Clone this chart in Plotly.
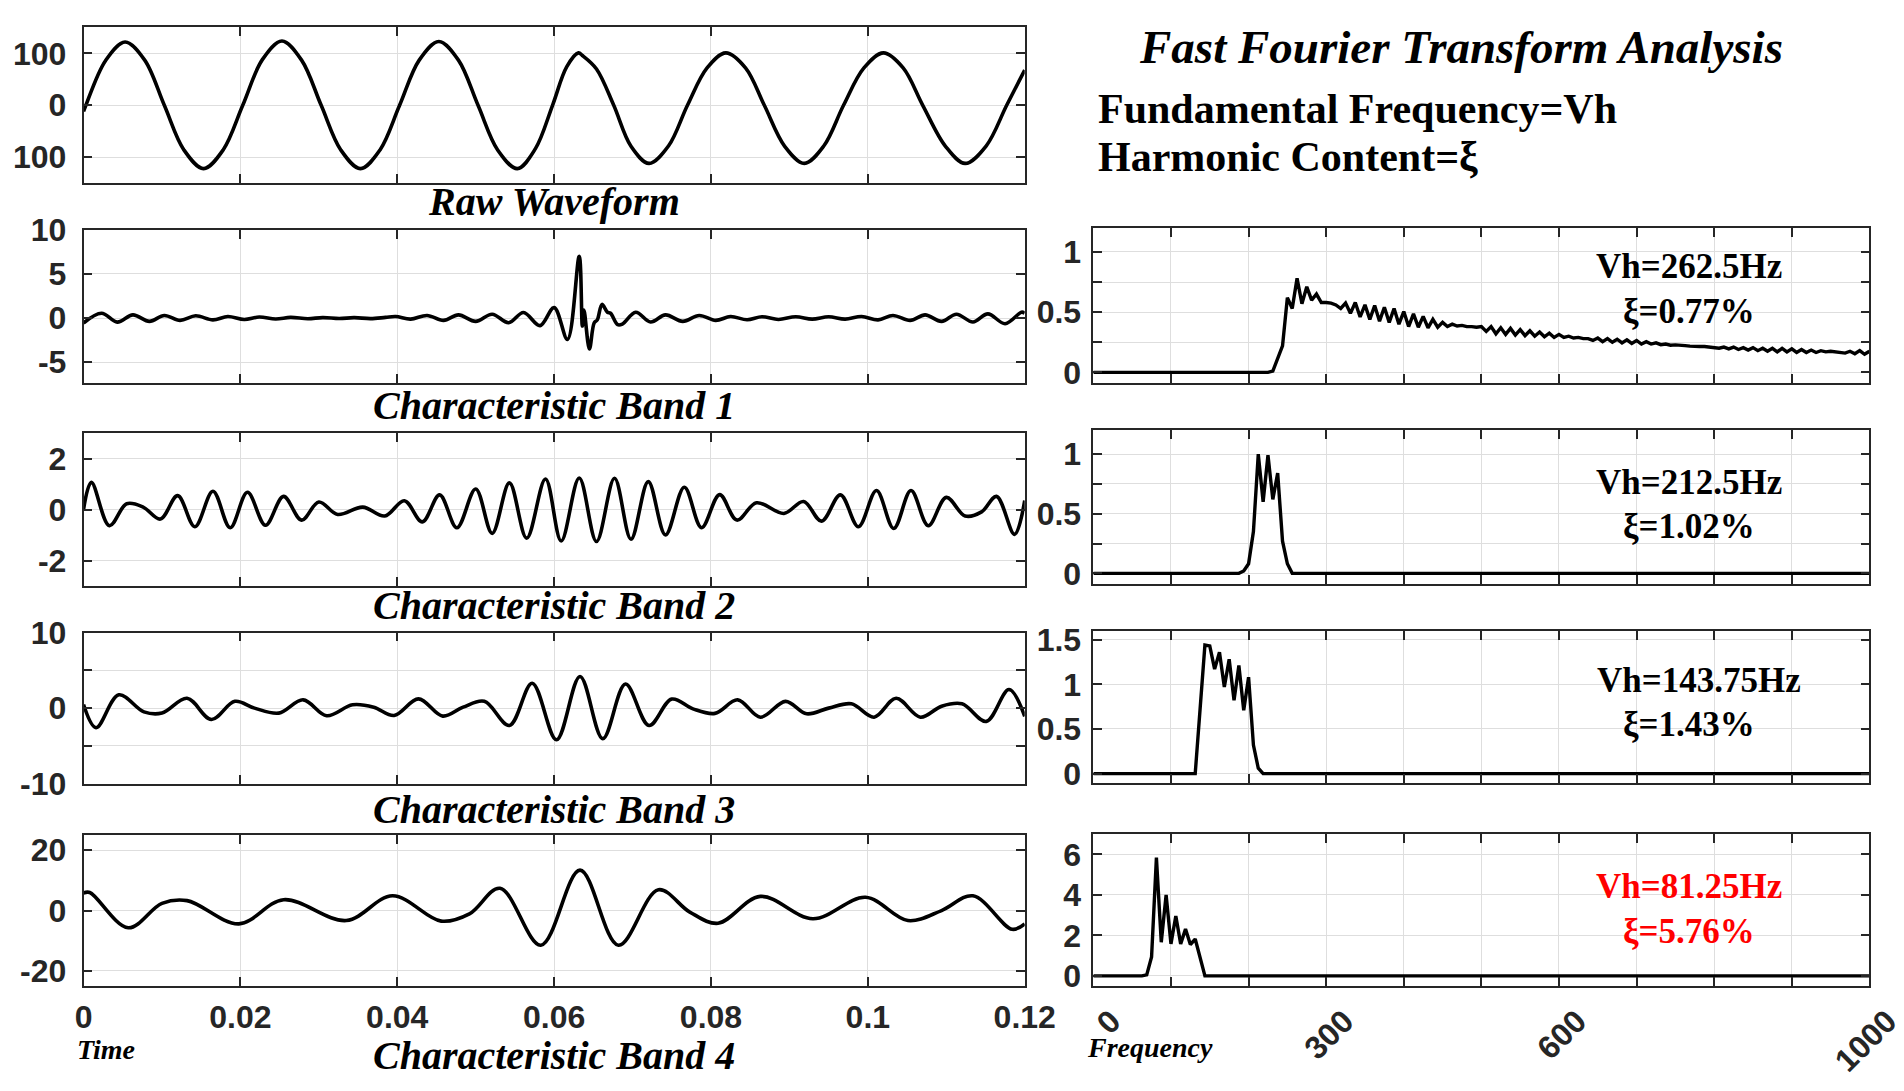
import numpy as np
import plotly.graph_objects as go

# ---------------- time domain (extrema / crossings) ----------------
raw_t = [0, 0.0003, 0.0028, 0.0053, 0.0078, 0.0103, 0.0128, 0.0153, 0.0178, 0.0203,
         0.0228, 0.0253, 0.0278, 0.0303, 0.0328, 0.0353, 0.0378, 0.0403, 0.0428, 0.0453,
         0.0478, 0.0503, 0.0528, 0.0553, 0.0576, 0.0598, 0.0616, 0.0631, 0.0636, 0.0654,
         0.0676, 0.0698, 0.0721, 0.0746, 0.0770, 0.0795, 0.0819, 0.0844, 0.0868, 0.0894,
         0.0919, 0.0944, 0.0969, 0.0995, 0.1020, 0.1045, 0.1070, 0.1099, 0.1124, 0.1151,
         0.1177, 0.12]
raw_v = [-12, 0, 86, 122, 87, 0, -86, -122, -86, 0,
         88, 124, 87, 0, -86, -122, -86, 0, 87, 123,
         87, 0, -86, -122, -84, 0, 74, 101, 96, 70,
         0, -79, -112, -78, 0, 72, 101, 72, 0, -79,
         -112, -78, 0, 72, 101, 72, 0, -79, -112, -78,
         0, 68]

band1_t = [0, 0.0023, 0.0043, 0.0063, 0.0084, 0.0103, 0.0123, 0.0143, 0.0165, 0.0184,
           0.0205, 0.0224, 0.0245, 0.0264, 0.0286, 0.0305, 0.0326, 0.0345, 0.0366, 0.0385,
           0.0398, 0.0417, 0.0438, 0.0459, 0.0478, 0.0500, 0.0521, 0.0542, 0.0561, 0.0582,
           0.0600, 0.0617, 0.0632, 0.0636, 0.0638, 0.0645, 0.0651, 0.0655, 0.0661, 0.0668,
           0.0672, 0.0681, 0.0687, 0.0704, 0.0723, 0.0742, 0.0764, 0.0785, 0.0806, 0.0825,
           0.0846, 0.0865, 0.0886, 0.0908, 0.0929, 0.0950, 0.0971, 0.0992, 0.1013, 0.1032,
           0.1054, 0.1073, 0.1094, 0.1113, 0.1134, 0.1153, 0.1175, 0.1196, 0.12]
band1_v = [-0.55, 0.55, -0.45, 0.37, -0.37, 0.30, -0.26, 0.26, -0.20, 0.18,
           -0.15, 0.12, -0.10, 0.08, -0.07, 0.06, -0.05, 0.05, -0.06, 0.08,
           0.18, -0.11, 0.30, -0.26, 0.37, -0.37, 0.44, -0.52, 0.63, -0.85,
           1.19, -2.41, 7.0, -0.9, 0.9, -3.5, -0.55, -0.2, 1.55, 0.67,
           0.55, -0.74, -0.67, 0.67, -0.44, 0.37, -0.37, 0.30, -0.26, 0.18,
           -0.18, 0.15, -0.15, 0.15, -0.11, 0.15, -0.11, 0.18, -0.20, 0.30,
           -0.26, 0.37, -0.37, 0.44, -0.44, 0.48, -0.63, 0.67, 0.55]

band2_t = [0, 0.0010, 0.0033, 0.0055, 0.0076, 0.0098, 0.0120, 0.0142, 0.0165, 0.0187,
           0.0209, 0.0232, 0.0255, 0.0278, 0.0300, 0.0324, 0.0356, 0.0384, 0.0409, 0.0432,
           0.0454, 0.0476, 0.0500, 0.0521, 0.0543, 0.0565, 0.0589, 0.0609, 0.0632, 0.0654,
           0.0677, 0.0698, 0.0720, 0.0742, 0.0766, 0.0788, 0.0811, 0.0833, 0.0858, 0.0893,
           0.0918, 0.0941, 0.0965, 0.0988, 0.1011, 0.1033, 0.1055, 0.1077, 0.1100, 0.1124,
           0.1145, 0.1164, 0.1187, 0.12]
band2_v = [0, 1.07, -0.63, 0.23, 0.10, -0.37, 0.55, -0.67, 0.72, -0.71,
           0.68, -0.61, 0.52, -0.41, 0.30, -0.19, 0.10, -0.25, 0.35, -0.48,
           0.58, -0.71, 0.81, -0.93, 1.05, -1.12, 1.20, -1.23, 1.24, -1.25,
           1.23, -1.16, 1.10, -0.99, 0.88, -0.71, 0.59, -0.41, 0.27, -0.15,
           0.32, -0.45, 0.58, -0.67, 0.75, -0.74, 0.75, -0.63, 0.48, -0.25,
           -0.09, 0.52, -0.97, 0.36]

band3_t = [0, 0.0016, 0.0045, 0.0077, 0.0100, 0.0132, 0.0163, 0.0193, 0.0218, 0.0249,
           0.0280, 0.0310, 0.0343, 0.0370, 0.0396, 0.0427, 0.0458, 0.0484, 0.0511, 0.0543,
           0.0572, 0.0603, 0.0633, 0.0662, 0.0691, 0.0721, 0.0750, 0.0777, 0.0805, 0.0834,
           0.0863, 0.0895, 0.0922, 0.0950, 0.0979, 0.1008, 0.1036, 0.1067, 0.1094, 0.1120,
           0.1151, 0.1180, 0.12]
band3_v = [0.48, -2.6, 1.76, -0.5, -0.66, 1.3, -1.5, 0.9, 0.0, -0.66,
           1.1, -1.0, 0.44, 0.13, -0.97, 1.23, -1.06, 0.13, 0.9, -2.3,
           3.3, -4.2, 4.2, -4.05, 3.2, -2.3, 1.2, -0.1, -0.7, 1.1,
           -1.2, 0.9, -0.75, 0.0, 0.57, -1.2, 1.3, -1.2, 0.26, 0.57,
           -1.76, 2.47, -1.1]

band4_t = [0, 0.0008, 0.0057, 0.0100, 0.0132, 0.0198, 0.0255, 0.0335, 0.0394, 0.0456,
           0.0492, 0.0531, 0.0583, 0.0633, 0.0682, 0.0733, 0.0773, 0.0809, 0.0863, 0.0930,
           0.0997, 0.1051, 0.1094, 0.1134, 0.1184, 0.12]
band4_v = [5.8, 6.0, -5.7, 2.4, 3.3, -4.4, 3.6, -3.3, 4.9, -3.5,
           -1.1, 7.4, -11.5, 13.4, -11.5, 6.9, -0.5, -4.2, 4.7, -2.7,
           4.4, -3.3, 0.0, 4.9, -6.2, -4.4]

# ---------------- spectra (6.25 Hz bins) ----------------
fft1_f = [0] + list(np.arange(225, 1000.01, 6.25))
fft1_a = [0,
          0.0, 0.01, 0.12, 0.22, 0.62, 0.53, 0.78, 0.57, 0.71, 0.60, 0.65, 0.58, 0.58,
          0.575, 0.56, 0.53, 0.575, 0.49, 0.58, 0.46, 0.56, 0.44, 0.555, 0.425, 0.54, 0.415, 0.53, 0.40, 0.505,
          0.38, 0.485, 0.375, 0.465, 0.37, 0.44, 0.375, 0.415, 0.38, 0.40, 0.385, 0.39, 0.38, 0.38, 0.375, 0.38,
          0.34, 0.38, 0.32, 0.37, 0.315, 0.365, 0.31, 0.355, 0.305, 0.345, 0.30, 0.335, 0.295, 0.325, 0.29, 0.315,
          0.29, 0.30, 0.285, 0.29, 0.28, 0.28, 0.265, 0.285, 0.255, 0.28, 0.25, 0.275, 0.245, 0.27, 0.24, 0.265,
          0.235, 0.255, 0.235, 0.245, 0.23, 0.235, 0.225, 0.228, 0.222, 0.222, 0.218, 0.22, 0.215, 0.215, 0.21, 0.212,
          0.20, 0.21, 0.195, 0.21, 0.19, 0.205, 0.185, 0.205, 0.18, 0.20, 0.175, 0.20, 0.17, 0.20, 0.17, 0.195,
          0.165, 0.19, 0.165, 0.185, 0.165, 0.18, 0.17, 0.175, 0.17, 0.17, 0.16, 0.175, 0.155, 0.18, 0.15, 0.175]

fft2_f = [0, 187.5, 193.75, 200, 206.25, 212.5, 218.75, 225, 231.25, 237.5, 243.75, 250, 256.25, 1000]
fft2_a = [0, 0, 0.02, 0.08, 0.35, 1.0, 0.6, 0.99, 0.62, 0.84, 0.27, 0.08, 0, 0]

fft3_f = [0, 131.25, 137.5, 143.75, 150, 156.25, 162.5, 168.75, 175, 181.25, 187.5,
          193.75, 200, 206.25, 212.5, 218.75, 1000]
fft3_a = [0, 0, 0.72, 1.44, 1.43, 1.17, 1.36, 0.97, 1.28, 0.82, 1.21,
          0.71, 1.08, 0.32, 0.06, 0, 0]

fft4_f = [0, 62.5, 68.75, 75, 81.25, 87.5, 93.75, 100, 106.25, 112.5, 118.75, 125, 131.25, 137.5, 143.75, 1000]
fft4_a = [0, 0, 0.05, 0.93, 5.84, 1.66, 4.0, 1.58, 2.96, 1.58, 2.31, 1.55, 1.82, 0.85, 0, 0]

titles = ['Raw Waveform', 'Characteristic Band 1', 'Characteristic Band 2',
          'Characteristic Band 3', 'Characteristic Band 4']
vh_text = ['Vh=262.5Hz', 'Vh=212.5Hz', 'Vh=143.75Hz', 'Vh=81.25Hz']
xi_text = ['ξ=0.77%', 'ξ=1.02%', 'ξ=1.43%', 'ξ=5.76%']

time_ticks = [0, 0.02, 0.04, 0.06, 0.08, 0.1, 0.12]
time_labels = ['0', '0.02', '0.04', '0.06', '0.08', '0.1', '0.12']
freq_ticks = list(range(0, 1001, 100))
freq_labels = ['0', '', '', '300', '', '', '600', '', '', '', '1000']

left_yticks = [[-100, 0, 100], [-5, 0, 5, 10], [-2, 0, 2], [-10, -5, 0, 5, 10], [-20, 0, 20]]
left_ylabels = [['100', '0', '100'], ['-5', '0', '5', '10'], ['-2', '0', '2'],
                ['-10', '', '0', '', '10'], ['-20', '0', '20']]
right_yticks = [[0, 0.25, 0.5, 0.75, 1], [0, 0.25, 0.5, 0.75, 1], [0, 0.5, 1, 1.5], [0, 2, 4, 6]]
right_ylabels = [['0', '', '0.5', '', '1'], ['0', '', '0.5', '', '1'],
                 ['0', '0.5', '1', '1.5'], ['0', '2', '4', '6']]

# ---------------- layout geometry (positions measured on the reference, in px) ----------------
W, H = 1904, 1091
left_x = (82, 1028)
right_x = (1097, 1877)
left_rows = [(25, 182), (229, 383), (434, 588), (635, 787), (839, 991)]
right_rows = [(227, 383), (431, 586), (633, 786), (838, 991)]
left_ranges = [[-150, 150], [-7.3, 10], [-3, 3], [-10, 10], [-25, 25]]
right_ranges = [[-0.085, 1.2], [-0.09, 1.2], [-0.1, 1.6], [-0.5, 7]]

# the captured page comes out slightly shrunk and shifted; compensate
SX, OX = 1.0179, -15.4
SY, OY = 1.0263, -24.3

SERIF = 'Liberation Serif, Times New Roman, serif'
SANS = 'Liberation Sans Narrow, Arial Narrow, Liberation Sans, Arial'
INK = '#262626'
tick_font = dict(family=SANS, size=32, color=INK, weight='bold')


def px_x(x):
    return (SX * x + OX) / W


def px_y(y):
    return 1 - max(SY * y + OY, 1.5) / H


def xdom(span):
    return [px_x(span[0]), px_x(span[1])]


def ydom(row):
    return [px_y(row[1]), px_y(row[0])]


def axis_base():
    return dict(showline=True, linecolor=INK, linewidth=1.6, mirror='ticks',
                ticks='inside', ticklen=9, tickwidth=1.5, tickcolor=INK,
                showgrid=True, gridcolor='#dedede', gridwidth=1.3, zeroline=False,
                tickfont=tick_font, tickmode='array')


fig = go.Figure()

left_data = [(raw_t, raw_v), (band1_t, band1_v), (band2_t, band2_v),
             (band3_t, band3_v), (band4_t, band4_v)]
right_data = [(fft1_f, fft1_a), (fft2_f, fft2_a), (fft3_f, fft3_a), (fft4_f, fft4_a)]

layout = {}
for i, (t, v) in enumerate(left_data):
    n = i + 1
    fig.add_trace(go.Scatter(x=t, y=v, mode='lines', xaxis=f'x{n}', yaxis=f'y{n}',
                             line=dict(color='black', width=3.6, shape='spline', smoothing=1.0),
                             showlegend=False, hoverinfo='skip'))
    xa = axis_base()
    xa.update(domain=xdom(left_x), anchor=f'y{n}', range=[0, 0.12],
              tickvals=time_ticks, ticktext=time_labels if n == 5 else [''] * 7,
              ticklabelstandoff=2)
    ya = axis_base()
    ya.update(domain=ydom(left_rows[i]), anchor=f'x{n}', range=left_ranges[i],
              tickvals=left_yticks[i], ticktext=left_ylabels[i], ticklabelstandoff=9)
    layout[f'xaxis{n}'] = xa
    layout[f'yaxis{n}'] = ya

for i, (f, a) in enumerate(right_data):
    n = i + 6
    fig.add_trace(go.Scatter(x=f, y=a, mode='lines', xaxis=f'x{n}', yaxis=f'y{n}',
                             line=dict(color='black', width=3.4),
                             showlegend=False, hoverinfo='skip'))
    xa = axis_base()
    xa.update(domain=xdom(right_x), anchor=f'y{n}', range=[0, 1000],
              tickvals=freq_ticks, ticktext=freq_labels if n == 9 else [''] * 11,
              tickangle=-45, ticklabelstandoff=2, ticklabelshift=18)
    ya = axis_base()
    ya.update(domain=ydom(right_rows[i]), anchor=f'x{n}', range=right_ranges[i],
              tickvals=right_yticks[i], ticktext=right_ylabels[i], ticklabelstandoff=4)
    layout[f'xaxis{n}'] = xa
    layout[f'yaxis{n}'] = ya


def note(text, x, y, font, xanchor='center'):
    return dict(text=text, x=px_x(x), y=px_y(y), xref='paper', yref='paper',
                showarrow=False, xanchor=xanchor, yanchor='middle', font=font)


title_font = dict(family=SERIF, size=40, color='black', weight='bold', style='italic')
annotations = []
title_y = [201, 406, 608, 813, 1061]
for txt, py in zip(titles, title_y):
    annotations.append(note(txt, 555, py, title_font))

vh_pos = [(1696, 266, 311), (1696, 484, 528), (1706, 683, 728), (1696, 891, 936)]
for k, (vh, xi) in enumerate(zip(vh_text, xi_text)):
    col = 'red' if k == 3 else 'black'
    fnt = dict(family=SERIF, size=35, color=col, weight='bold')
    px, y1, y2 = vh_pos[k]
    annotations.append(note(vh, px, y1, fnt))
    annotations.append(note(xi, 1696, y2, fnt))

annotations.append(note('Fast Fourier Transform Analysis', 1467, 45,
                        dict(family=SERIF, size=47, color='black', weight='bold', style='italic')))
head_font = dict(family=SERIF, size=42, color='black', weight='bold')
annotations.append(note('Fundamental Frequency=Vh', 1100, 107, head_font, 'left'))
annotations.append(note('Harmonic Content=ξ', 1100, 156, head_font, 'left'))

small_font = dict(family=SERIF, size=28, color='black', weight='bold', style='italic')
annotations.append(note('Time', 105, 1055, small_font))
annotations.append(note('Frequency', 1154, 1053, small_font))

fig.update_layout(width=W, height=H, margin=dict(l=0, r=0, t=0, b=0),
                  paper_bgcolor='white', plot_bgcolor='white',
                  annotations=annotations, **layout)

fig.write_html("out.html")
